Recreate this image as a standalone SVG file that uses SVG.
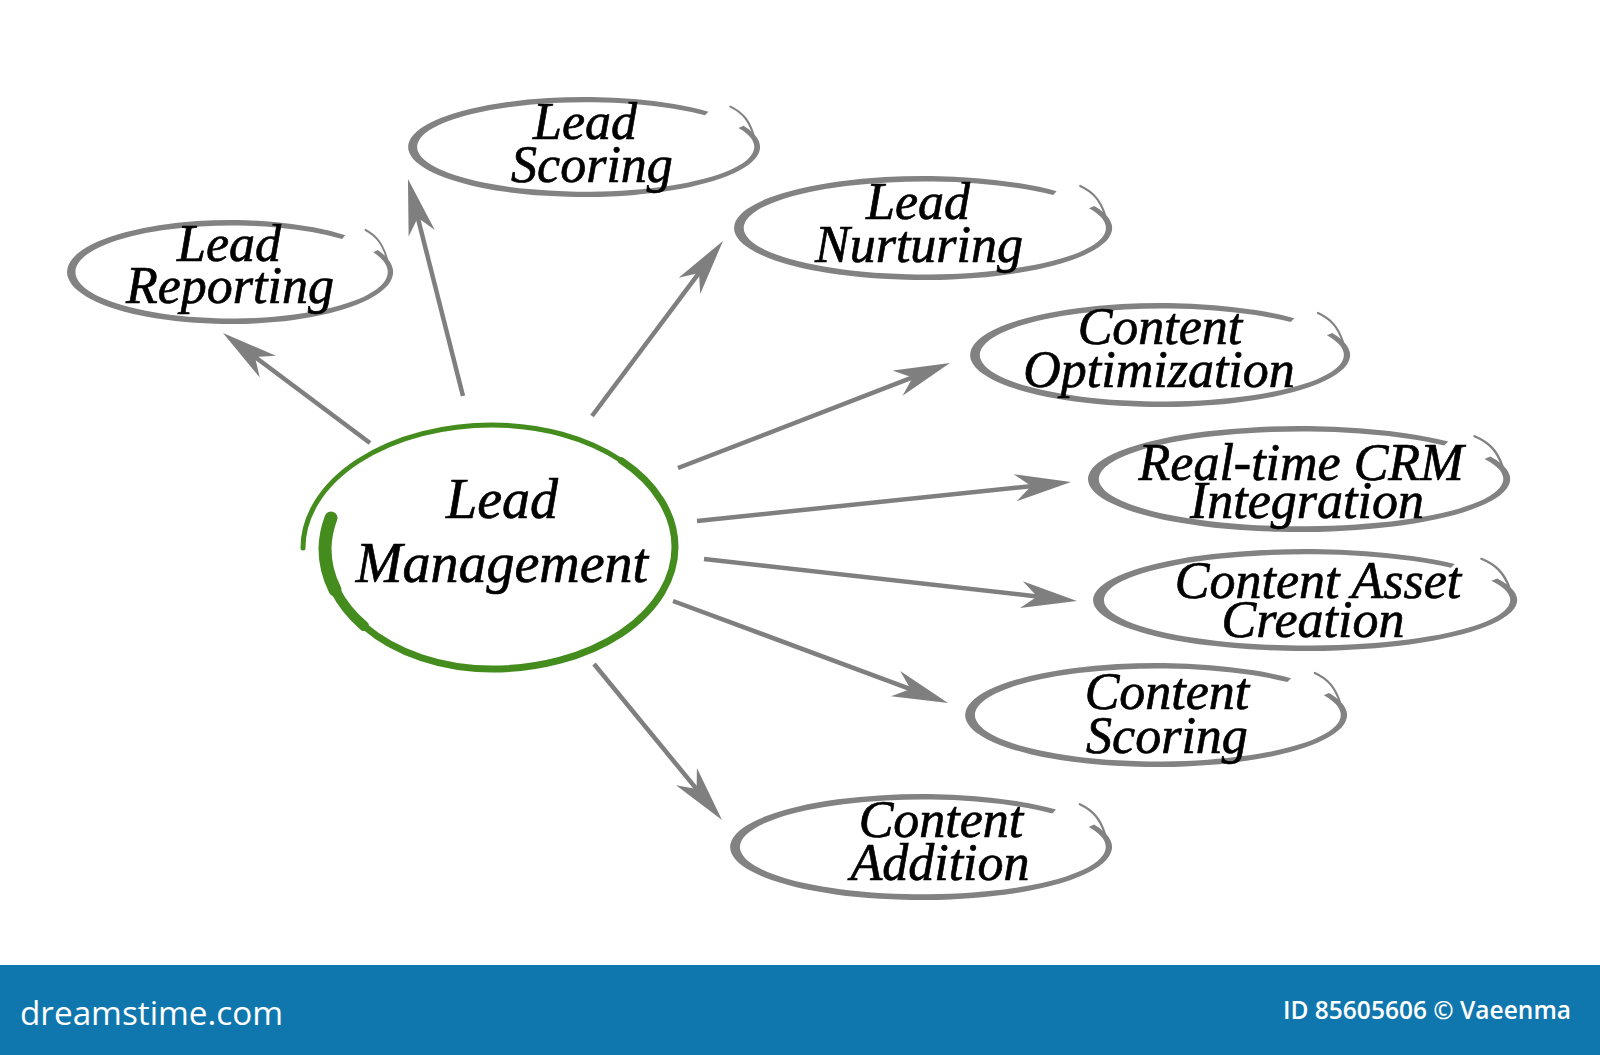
<svg xmlns="http://www.w3.org/2000/svg" xmlns:xlink="http://www.w3.org/1999/xlink" width="1600" height="1055" viewBox="0 0 1600 1055">
  <style>
    .lbl { font-family: "Liberation Serif", "Times New Roman", serif; font-style: italic; font-size: 52px; fill: #000; stroke: #000; stroke-width: 0.7; text-anchor: middle; }
    .big { font-size: 56px; }
    .conn { stroke: #7f7f7f; stroke-width: 4.5; fill: none; marker-end: url(#ah); }
    .green { fill: none; stroke: #458c1f; stroke-linecap: round; }
    .brand { font-family: "Open Sans", "Liberation Sans", sans-serif; fill: #fff; }
  </style>
  <defs>
    <marker id="ah" viewBox="-56 -14 58 28" refX="-38" refY="0" markerWidth="58" markerHeight="28" markerUnits="userSpaceOnUse" orient="auto">
      <path d="M0,0 L-56,-13.5 L-40,0 L-56,13.5 Z" fill="#7f7f7f"/>
    </marker>
    <g id="brush">
      <path d="M134.35,-36.77 A190,52 0 1 0 172.2,-22.0 L166.9,-19.65 A182,46.5 0 1 1 130.7,-32.9 Z" fill="#828282"/>
      <path d="M183,-13 C178,-28 171,-36 158,-42" fill="none" stroke="#828282" stroke-width="2.2" stroke-linecap="round"/>
    </g>
  </defs>
  <rect x="0" y="0" width="1600" height="1055" fill="#fff"/>

  <g id="connectors">
    <line class="conn" x1="370" y1="443" x2="253.4" y2="355.8"/>
    <line class="conn" x1="463" y1="396" x2="417.3" y2="215.8"/>
    <line class="conn" x1="592" y1="416" x2="700.2" y2="271.4"/>
    <line class="conn" x1="678" y1="468" x2="914.5" y2="376.7"/>
    <line class="conn" x1="697" y1="521" x2="1033.2" y2="485.9"/>
    <line class="conn" x1="704" y1="559" x2="1039.2" y2="596.7"/>
    <line class="conn" x1="673" y1="601" x2="912.4" y2="689.8"/>
    <line class="conn" x1="594" y1="664" x2="697.9" y2="790.6"/>
  </g>

  <g id="node-lead-management">
    <path class="green" stroke-width="5" d="M303,548 A189,123 0 0 1 492,425 A183,122 0 0 1 621.4,460.7"/>
    <path class="green" stroke-width="7" d="M621.4,460.7 A183,122 0 0 1 675,547 A183,122 0 0 1 492,669 A167,120 0 0 1 364.1,626.1"/>
    <path class="green" stroke-width="10" d="M364.1,626.1 A167,120 0 0 1 335.1,590"/>
    <path class="green" stroke-width="13" d="M335.1,590 A167,120 0 0 1 325,549 A167,120 0 0 1 331,518"/>
    <text class="lbl big" x="502" y="518">Lead</text>
    <text class="lbl big" x="502" y="582">Management</text>
  </g>

  <g id="node-lead-reporting">
    <use xlink:href="#brush" transform="translate(230,272) scale(0.858,1)"/>
    <text class="lbl" x="229" y="261">Lead</text>
    <text class="lbl" x="230" y="303">Reporting</text>
  </g>

  <g id="node-lead-scoring">
    <use xlink:href="#brush" transform="translate(584,147) scale(0.926,0.962)"/>
    <text class="lbl" x="585" y="139">Lead</text>
    <text class="lbl" x="592" y="182">Scoring</text>
  </g>

  <g id="node-lead-nurturing">
    <use xlink:href="#brush" transform="translate(923,228) scale(0.995,1)"/>
    <text class="lbl" x="918" y="219">Lead</text>
    <text class="lbl" x="919" y="262">Nurturing</text>
  </g>

  <g id="node-content-optimization">
    <use xlink:href="#brush" transform="translate(1160,355) scale(1,1)"/>
    <text class="lbl" x="1160" y="344">Content</text>
    <text class="lbl" x="1159" y="387">Optimization</text>
  </g>

  <g id="node-crm-integration">
    <use xlink:href="#brush" transform="translate(1299,479) scale(1.111,1.019)"/>
    <text class="lbl" x="1301" y="480">Real-time CRM</text>
    <text class="lbl" x="1307" y="518">Integration</text>
  </g>

  <g id="node-content-asset-creation">
    <use xlink:href="#brush" transform="translate(1305,600) scale(1.116,0.981)"/>
    <text class="lbl" x="1318" y="598">Content Asset</text>
    <text class="lbl" x="1313" y="637">Creation</text>
  </g>

  <g id="node-content-scoring">
    <use xlink:href="#brush" transform="translate(1156,715) scale(1.005,1)"/>
    <text class="lbl" x="1167" y="709">Content</text>
    <text class="lbl" x="1167" y="753">Scoring</text>
  </g>

  <g id="node-content-addition">
    <use xlink:href="#brush" transform="translate(921,847) scale(1.005,1.019)"/>
    <text class="lbl" x="941" y="837">Content</text>
    <text class="lbl" x="940" y="880">Addition</text>
  </g>

  <g id="banner">
    <rect x="0" y="965" width="1600" height="90" fill="#1077ae"/>
    <text class="brand" x="20" y="1025" font-size="32" textLength="263" lengthAdjust="spacingAndGlyphs">dreamstime.com</text>
    <text class="brand" x="1571" y="1019" font-size="26" font-weight="600" text-anchor="end" textLength="288" lengthAdjust="spacingAndGlyphs">ID 85605606 © Vaeenma</text>
  </g>
</svg>
